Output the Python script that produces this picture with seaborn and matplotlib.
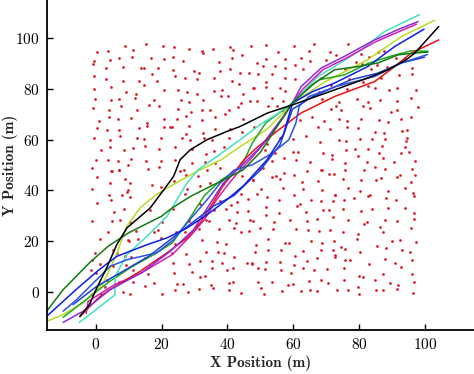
import pandas as pd
import matplotlib.pyplot as plt
import seaborn as sns

# sensor positions (red dots), read region by region off the picture
nw_x = [8.7, 11.4, 15.3, 20.5, 0.2, 3.8, -0.5, 4.4, 7.0, 11.1, 16.7, 20.6, -0.9, 3.1, 8.2, 13.8, 14.6, 18.9, 17.0, -0.6,
        2.9, 8.2, 13.1, 14.6, 18.7, 4.5, -0.5, 20.8, 9.0, 12.1, 11.9, -0.2, 4.7, 7.1, 17.5, 16.2, 19.2, 7.7, -0.8, 4.1,
        12.4, 3.9, 6.7, 10.6, 20.6, 0.9, 15.5, 15.5, 0.3, 13.0, 20.8, 22.6, 3.2, 6.9, 7.4, -0.5, 4.3, 12.4, 14.7, 19.9,
        1.4, 4.3, 8.6, 11.3, 15.0, 19.2, -0.1, 3.7, 6.8, 10.6, 15.2, 19.8, -1.1, 4.8, 6.9, 9.8, 15.7, 19.1]
nw_y = [96.9, 95.5, 97.6, 96.7, 94.4, 95.1, 91.0, 91.4, 92.0, 92.6, 92.0, 91.6, 89.7, 88.3, 88.5, 88.4, 88.1, 88.3, 85.7, 84.9,
        83.9, 83.2, 83.0, 81.6, 83.2, 80.8, 80.1, 79.7, 78.8, 77.8, 76.3, 76.1, 75.5, 76.1, 75.5, 73.6, 73.1, 73.1, 72.3, 71.5,
        71.6, 69.0, 68.3, 68.5, 68.1, 67.4, 66.6, 65.3, 64.5, 64.5, 65.1, 65.1, 63.6, 63.7, 61.5, 60.5, 59.9, 60.6, 60.1, 60.5,
        56.0, 57.2, 56.0, 56.6, 57.3, 56.3, 51.9, 51.8, 51.5, 52.5, 51.4, 51.5, 48.8, 47.7, 48.2, 50.0, 48.6, 49.3]

nmw_x = [23.6, 28.4, 32.3, 32.7, 35.6, 40.7, 41.6, 44.5, 47.2, 23.4, 26.6, 37.3, 41.3, 23.4, 23.9, 29.9, 31.4, 37.6, 40.7,
         43.8, 46.7, 27.2, 30.6, 36.0, 41.4, 43.5, 47.8, 24.9, 27.6, 30.7, 35.9, 38.3, 38.0, 40.3, 44.6, 26.0, 32.5, 28.3,
         44.2, 47.0, 24.9, 32.4, 34.8, 40.6, 28.8, 39.3, 43.2, 24.6, 27.3, 32.4, 36.2, 44.8, 23.0, 28.4, 36.3, 40.7, 44.5,
         32.7, 27.4, 26.1, 28.6, 32.8, 35.2, 40.6, 23.9, 35.8, 38.8, 29.2, 23.9, 33.5, 29.2, 33.1, 36.1, 37.8, 33.9, 26.8]
nmw_y = [96.4, 95.8, 95.1, 94.1, 95.6, 96.4, 95.4, 93.4, 96.9, 92.7, 90.8, 90.4, 92.1, 87.5, 85.1, 87.1, 86.4, 87.2, 87.8,
         86.2, 86.2, 84.2, 83.9, 84.2, 83.2, 81.8, 80.3, 79.6, 78.7, 77.9, 79.1, 79.6, 77.0, 77.3, 77.9, 75.8, 75.7, 74.8,
         74.5, 75.3, 72.0, 71.7, 71.7, 71.5, 70.8, 70.2, 72.7, 68.2, 69.5, 67.8, 68.9, 68.3, 65.0, 65.2, 64.1, 64.1, 62.9,
         62.8, 62.3, 60.8, 59.9, 60.5, 59.9, 60.6, 57.2, 55.7, 57.0, 56.4, 52.1, 54.4, 50.9, 51.3, 50.9, 48.9, 47.9, 47.9]

nme_x = [51.7, 60.1, 66.2, 55.5, 64.7, 71.2, 49.1, 51.7, 57.6, 62.3, 65.2, 70.0, 50.9, 54.4, 57.5, 60.6, 62.9, 49.3, 53.4,
         57.6, 60.6, 68.4, 51.6, 51.8, 55.9, 57.4, 48.2, 64.0, 71.4, 49.0, 53.5, 57.0, 67.9, 68.8, 55.2, 52.3, 71.6, 56.9,
         62.0, 65.7, 69.4, 58.1, 64.0, 67.6, 71.2, 48.0, 56.0, 59.8, 68.2, 52.0, 51.3, 54.6, 59.8, 61.5, 69.0, 71.9, 71.9,
         53.5, 57.3, 60.9, 65.1, 50.0, 50.7, 68.6]
nme_y = [97.1, 96.7, 97.5, 94.6, 95.0, 94.7, 90.2, 91.8, 91.6, 92.1, 91.0, 91.3, 89.1, 88.9, 88.1, 89.2, 88.0, 85.9, 85.7,
         84.3, 83.7, 84.1, 82.6, 80.9, 80.3, 79.0, 80.3, 80.1, 81.5, 75.3, 76.2, 75.2, 78.8, 76.0, 73.1, 73.1, 72.0, 71.1,
         67.8, 69.0, 67.3, 67.1, 61.5, 64.8, 64.1, 64.8, 60.5, 60.1, 59.0, 58.2, 56.0, 54.7, 55.1, 55.2, 54.7, 54.0, 52.5,
         51.4, 52.7, 52.1, 51.0, 48.5, 48.9, 47.9]

ne_x = [76.6, 85.8, 87.6, 73.1, 80.5, 83.0, 91.4, 94.0, 79.1, 80.9, 85.4, 88.5, 96.2, 75.7, 83.7, 92.2, 96.1, 77.0, 81.3,
        86.8, 74.4, 82.9, 84.9, 91.7, 97.4, 76.3, 89.0, 79.5, 95.9, 82.9, 86.5, 91.5, 74.0, 73.0, 81.2, 83.3, 98.1, 74.4,
        89.9, 91.6, 80.6, 86.1, 88.8, 92.7, 95.9, 73.9, 76.4, 79.6, 84.9, 93.2, 94.6, 76.5, 87.5, 83.9, 80.3, 94.2, 94.7,
        74.0, 76.0, 87.9, 78.9, 82.9, 87.1, 93.9, 76.1, 86.1, 92.9, 95.1, 79.7, 87.2, 97.1, 75.7, 82.5, 90.7, 75.8, 81.5,
        87.8, 84.9, 96.1]
ne_y = [97.7, 94.7, 95.0, 93.3, 93.7, 92.5, 92.0, 92.1, 90.4, 89.8, 89.2, 88.5, 88.4, 87.8, 87.9, 85.4, 85.9, 83.8, 82.6,
        84.1, 82.1, 81.2, 80.3, 80.3, 79.7, 79.9, 79.4, 76.1, 76.5, 74.8, 75.7, 75.3, 75.0, 73.4, 73.1, 72.3, 72.7, 71.5,
        70.8, 71.5, 68.3, 67.7, 66.9, 68.2, 68.9, 68.1, 67.5, 64.4, 63.1, 63.5, 63.9, 64.9, 62.6, 60.3, 60.1, 59.3, 60.5,
        59.9, 59.5, 60.2, 56.4, 56.5, 57.3, 56.9, 56.0, 54.7, 54.8, 55.3, 53.5, 52.8, 51.7, 50.9, 51.3, 51.1, 48.2, 47.9,
        48.6, 49.4, 48.6]

sw_x = [4.7, 6.9, 0.2, 8.8, 10.2, 4.3, 16.9, 19.8, -1.2, 9.8, 9.3, 8.0, 4.0, 10.3, 4.7, 0.4, 8.4, 5.6, 16.3, -1.2,
        4.9, 7.4, 10.3, 20.2, 3.6, 12.3, 17.6, 18.9, 1.2, 9.6, 10.0, 12.8, 19.7, -0.2, 5.2, 6.3, 8.7, 10.8, 15.0, -1.3,
        1.2, 9.2, 5.2, 11.2, -1.5, 0.1, 6.7, 15.9, 3.4, 7.0, 11.4, 17.5, 2.8, 15.0, 20.1, 8.1, 10.2, 1.4, -1.2]
sw_y = [47.8, 47.9, 45.1, 44.6, 42.8, 42.9, 42.2, 41.3, 40.7, 40.0, 39.2, 38.0, 38.0, 37.5, 36.3, 34.9, 32.8, 31.4, 32.3, 28.1,
        28.1, 28.2, 27.4, 27.5, 23.6, 24.1, 23.6, 24.3, 20.7, 20.3, 20.2, 20.9, 21.1, 15.5, 16.4, 15.5, 14.3, 13.8, 13.5, 12.5,
        11.0, 10.8, 10.4, 8.8, 8.5, 7.3, 7.1, 7.2, 4.6, 3.9, 3.8, 3.5, 2.0, 2.2, -0.7, 0.0, -1.0, -1.0, -1.0]

smw_x = [25.6, 27.3, 31.0, 23.6, 27.7, 31.6, 34.8, 38.6, 44.3, 47.8, 27.2, 44.0, 37.7, 41.2, 42.8, 46.1, 31.6, 35.8, 39.4,
         42.9, 46.1, 23.5, 28.2, 33.5, 34.4, 40.4, 47.0, 31.4, 37.5, 42.7, 42.0, 44.0, 46.5, 24.3, 27.1, 32.4, 36.9, 39.7,
         24.0, 27.4, 33.4, 37.0, 39.0, 42.0, 23.0, 31.7, 35.2, 38.2, 45.9, 47.5, 23.4, 28.2, 35.4, 40.0, 41.8, 29.3, 23.8,
         31.6, 33.1, 40.4, 41.7, 35.1, 35.5, 24.6, 26.5, 31.2, 24.0, 44.0, 40.4, 28.0]
smw_y = [47.8, 45.9, 45.8, 43.8, 40.5, 41.9, 42.9, 42.6, 45.5, 44.2, 38.6, 38.7, 35.9, 34.2, 35.4, 36.6, 34.6, 32.1, 32.8,
         31.5, 31.9, 32.5, 28.1, 28.2, 27.8, 28.3, 28.2, 24.8, 24.8, 27.1, 25.3, 23.6, 23.9, 23.7, 23.7, 20.3, 19.8, 19.0,
         19.0, 14.8, 15.9, 15.9, 15.2, 13.8, 15.3, 12.2, 12.3, 11.3, 11.3, 11.3, 11.3, 10.9, 9.3, 8.6, 9.3, 7.9, 7.3,
         5.8, 6.3, 3.4, 4.0, 2.9, 1.6, 3.0, 3.1, 1.2, 0.8, -0.5, 0.8, 0.1]

sme_x = [53.5, 54.9, 56.1, 57.2, 60.3, 64.3, 68.7, 71.0, 72.5, 47.9, 62.8, 67.4, 50.3, 56.8, 63.0, 68.8, 49.0, 52.0, 60.1,
         72.6, 55.8, 65.5, 68.4, 72.2, 61.2, 62.0, 51.8, 70.9, 63.8, 69.0, 72.1, 55.7, 51.8, 47.8, 54.1, 58.9, 64.2, 67.1,
         50.0, 53.9, 60.9, 64.6, 67.8, 71.1, 52.4, 57.4, 58.7, 65.3, 68.8, 72.3, 48.8, 52.3, 56.3, 62.9, 68.5, 72.2, 48.3,
         60.4, 67.2, 72.8, 51.6, 55.9, 64.1, 60.1, 47.6, 49.4, 51.4, 56.4, 62.9, 66.4, 70.3, 59.2, 49.2, 53.6, 58.3, 59.9,
         64.9, 68.4, 70.7, 50.3, 56.7, 62.5, 65.1, 67.2, 51.1]
sme_y = [45.3, 45.8, 44.6, 46.8, 45.9, 47.6, 47.9, 46.3, 46.3, 44.2, 43.2, 43.7, 40.5, 40.9, 40.5, 40.3, 38.4, 37.5, 38.0,
         38.2, 36.3, 36.1, 35.9, 35.9, 33.7, 34.6, 33.6, 32.4, 31.5, 32.1, 29.4, 31.2, 30.2, 28.1, 27.4, 28.2, 27.9, 28.9,
         25.2, 24.7, 24.7, 24.4, 24.0, 24.5, 21.0, 19.4, 19.4, 19.9, 19.4, 20.1, 18.6, 16.5, 16.4, 16.3, 16.4, 16.5, 15.9,
         14.0, 13.5, 13.6, 11.9, 11.9, 12.2, 10.8, 11.2, 9.4, 8.9, 8.6, 9.3, 8.5, 8.9, 7.5, 4.0, 3.8, 2.9, 3.1,
         4.2, 4.7, 3.5, 1.4, 0.2, 0.2, 0.8, 0.4, -0.9]

se_x = [75.0, 80.6, 85.2, 86.8, 91.5, 92.4, 97.0, 76.8, 80.4, 88.8, 93.9, 95.9, 96.5, 96.7, 72.8, 75.5, 78.6, 82.8, 83.5,
        88.2, 91.3, 75.2, 80.5, 83.9, 88.9, 94.1, 96.7, 96.7, 76.8, 81.6, 82.4, 87.8, 91.5, 86.4, 95.8, 75.0, 79.6, 87.4,
        79.4, 90.1, 92.6, 97.5, 74.4, 75.9, 80.2, 85.5, 88.2, 93.2, 95.4, 72.7, 75.7, 77.4, 83.2, 87.9, 90.9, 92.9, 96.1,
        75.5, 87.4, 96.1, 80.0, 81.3, 84.9, 89.5, 91.8, 75.4, 96.7, 79.7, 91.7, 73.3, 76.7, 85.2, 87.3, 79.9, 96.5]
se_y = [44.5, 44.2, 44.2, 45.0, 45.3, 46.0, 45.9, 40.9, 39.8, 39.9, 41.1, 43.3, 39.0, 37.9, 38.2, 36.1, 37.1, 37.9, 38.2,
        36.9, 36.2, 32.8, 32.0, 32.8, 33.1, 33.2, 31.0, 28.6, 28.3, 26.9, 27.4, 28.2, 27.8, 25.6, 25.1, 23.5, 23.0, 23.5,
        20.7, 20.2, 20.5, 19.5, 17.7, 17.0, 15.9, 18.2, 17.2, 16.6, 15.7, 14.6, 12.5, 12.5, 11.2, 13.0, 11.3, 10.0, 12.5,
        9.3, 7.1, 7.1, 6.1, 6.0, 4.8, 3.7, 2.9, 4.7, 3.9, 2.1, 1.3, 0.6, 0.6, 0.6, 0.6, -1.0, -0.4]

# trajectories (waypoints)
black_x = [-4.9, -2.0, 0.0, 3.3, 6.3, 9.4, 16.5, 21.0, 23.6, 25.6, 28.7, 33.8, 39.8, 43.9, 52.2, 59.8, 72.6, 82.7, 88.8, 94.4, 97.0, 104.3]
black_y = [-9.6, -5.0, 0.9, 9.6, 18.6, 25.2, 33.1, 40.9, 45.5, 52.1, 56.0, 60.0, 63.2, 65.2, 70.5, 73.7, 79.6, 84.3, 87.5, 91.5, 94.1, 104.6]

red_x = [-4.9, -2.3, 1.0, 4.3, 13.4, 21.6, 27.7, 31.7, 35.8, 38.8, 41.9, 45.0, 48.2, 54.3, 62.4, 72.6, 84.8, 90.9, 95.9, 104.3]
red_y = [-9.8, -6.3, -2.0, 0.9, 8.1, 15.4, 21.3, 27.2, 35.6, 42.2, 46.9, 52.0, 56.0, 62.6, 70.5, 77.0, 82.9, 88.8, 94.1, 99.3]

magenta_x = [-3.0, -2.4, 5.7, 13.8, 23.2, 28.7, 33.0, 36.5, 40.0, 43.5, 47.5, 52.0, 56.0, 59.8, 63.0, 69.0, 76.0, 85.0, 93.0, 97.5]
magenta_y = [-8.5, -3.7, 2.9, 7.5, 14.7, 22.0, 28.5, 36.0, 42.0, 47.5, 53.0, 60.0, 67.0, 74.5, 80.0, 87.5, 92.0, 98.5, 103.0, 105.5]

purple_x = [-10.0, -3.9, 4.3, 13.8, 22.6, 29.7, 34.8, 38.8, 42.9, 46.0, 50.0, 54.0, 57.5, 59.8, 62.4, 68.5, 75.6, 84.8, 92.9, 98.0]
purple_y = [-12.0, -7.6, 0.9, 7.5, 16.0, 24.5, 35.0, 42.9, 48.1, 52.0, 57.0, 64.0, 70.0, 74.5, 80.9, 88.2, 92.8, 99.3, 103.9, 106.5]

cyan_x = [-5.1, 0.0, 5.8, 5.8, 9.4, 15.5, 21.6, 24.6, 27.7, 31.0, 36.8, 43.9, 50.0, 55.0, 59.8, 67.5, 72.6, 80.7, 87.8, 98.4]
cyan_y = [-12.0, -7.0, -1.1, 6.1, 14.7, 21.9, 29.8, 36.3, 42.9, 48.0, 53.4, 60.0, 66.0, 70.0, 74.5, 84.9, 88.8, 95.4, 102.6, 109.2]

yellow_x = [-15.0, -10.0, -3.9, 2.0, 6.0, 9.4, 13.4, 18.0, 21.6, 30.0, 38.0, 43.9, 52.0, 58.0, 59.8, 70.0, 82.7, 92.9, 103.0]
yellow_y = [-11.6, -8.9, -4.3, 3.0, 14.0, 26.0, 33.1, 38.0, 40.9, 47.0, 52.0, 57.3, 64.0, 72.0, 74.5, 83.0, 91.5, 100.6, 107.0]

green_x = [-15.0, -10.0, -1.8, 3.7, 9.8, 15.9, 19.9, 23.2, 28.7, 34.8, 40.9, 44.8, 50.0, 55.0, 59.8, 66.5, 72.6, 79.7, 85.8, 91.9, 97.0, 101.0]
green_y = [-7.6, 0.9, 11.7, 18.0, 23.2, 27.2, 29.8, 33.1, 37.6, 41.6, 45.5, 48.1, 55.0, 65.0, 74.5, 82.3, 87.5, 88.8, 90.2, 93.4, 94.1, 94.5]

lime_x = [-10.0, -3.0, 4.0, 11.0, 18.0, 23.2, 28.0, 33.0, 38.0, 44.0, 47.6, 51.6, 55.7, 59.8, 63.8, 67.9, 75.6, 82.7, 90.0, 96.0, 101.0]
lime_y = [-10.0, -3.0, 4.0, 10.0, 15.0, 19.3, 28.0, 38.0, 44.0, 49.0, 58.7, 66.5, 70.5, 74.4, 79.6, 83.6, 85.5, 90.0, 93.0, 95.0, 94.8]

blue_x = [-15.0, -6.0, 1.0, 6.3, 15.5, 21.6, 27.7, 33.8, 39.8, 45.0, 52.0, 57.0, 59.8, 66.0, 72.6, 82.7, 90.9, 99.8]
blue_y = [-9.6, 1.0, 8.8, 14.0, 18.6, 21.3, 25.2, 30.4, 36.3, 42.0, 52.0, 62.0, 74.4, 79.0, 82.3, 88.8, 96.7, 103.5]

royal_x = [-10.0, -5.9, 0.2, 4.3, 9.4, 18.5, 23.6, 27.7, 33.8, 37.8, 42.0, 47.6, 53.7, 58.7, 60.8, 61.8, 64.8, 73.2, 84.8, 92.9, 100.8]
royal_y = [-7.6, -3.0, 4.8, 10.1, 12.7, 15.4, 20.6, 27.2, 36.3, 42.9, 48.0, 50.1, 54.7, 60.0, 66.5, 73.1, 77.0, 81.0, 84.9, 90.2, 93.5]

navy_x = [-7.0, 0.0, 8.0, 16.0, 24.0, 30.0, 36.0, 42.0, 50.0, 56.0, 59.8, 66.0, 77.6, 85.8, 92.9, 100.0]
navy_y = [-5.0, 2.0, 8.0, 14.0, 22.0, 28.0, 34.0, 38.0, 48.0, 58.0, 72.0, 77.0, 83.6, 86.2, 90.2, 92.5]

paths = {
    "yellow": (yellow_x, yellow_y, "#b8dc28"),
    "lime": (lime_x, lime_y, "#22a81e"),
    "cyan": (cyan_x, cyan_y, "#46e0c4"),
    "magenta": (magenta_x, magenta_y, "#d020b0"),
    "red": (red_x, red_y, "#ee1010"),
    "purple": (purple_x, purple_y, "#8a2be2"),
    "navy": (navy_x, navy_y, "#1f3fd0"),
    "royal": (royal_x, royal_y, "#2a52e0"),
    "blue": (blue_x, blue_y, "#0a1ee8"),
    "green": (green_x, green_y, "#107a10"),
    "black": (black_x, black_y, "#000000"),
}

dot_x = nw_x + nmw_x + nme_x + ne_x + sw_x + smw_x + sme_x + se_x
dot_y = nw_y + nmw_y + nme_y + ne_y + sw_y + smw_y + sme_y + se_y

rows = []
for name, (xs, ys, _) in paths.items():
    for i, (px, py) in enumerate(zip(xs, ys)):
        rows.append({"path": name, "step": i, "x": px, "y": py})
traj = pd.DataFrame(rows)
palette = {name: c for name, (_, _, c) in paths.items()}

sns.set_style("ticks")
plt.rcParams["font.family"] = ["cmr10", "DejaVu Serif"]
plt.rcParams["axes.formatter.use_mathtext"] = True

fig = plt.figure(figsize=(4.74, 3.74), dpi=100)
ax = fig.add_axes([0.0985, 0.1176, 0.9015, 0.8824])

sns.scatterplot(x=dot_x, y=dot_y, color="#d8202c", s=4, linewidth=0, ax=ax, zorder=1)
sns.lineplot(data=traj, x="x", y="y", hue="path", palette=palette, sort=False,
             estimator=None, linewidth=1.1, legend=False, ax=ax, zorder=2)

ax.set_xlim(-15, 115)
ax.set_ylim(-15, 115)
ax.set_xticks([0, 20, 40, 60, 80, 100])
ax.set_yticks([0, 20, 40, 60, 80, 100])
ax.tick_params(direction="in", length=4, width=1, labelsize=11, pad=5, colors="black")
for side in ["top", "right"]:
    ax.spines[side].set_visible(False)
for side in ["left", "bottom"]:
    ax.spines[side].set_linewidth(1.3)
    ax.spines[side].set_color("black")

ax.set_xlabel("X Position (m)", fontfamily="cmb10", fontsize=11)
ax.set_ylabel("Y Position (m)", fontfamily="cmb10", fontsize=11)
ax.xaxis.set_label_coords(0.5, -0.078)
ax.yaxis.set_label_coords(-0.068, 0.5)

fig.savefig("out.png", dpi=100)
